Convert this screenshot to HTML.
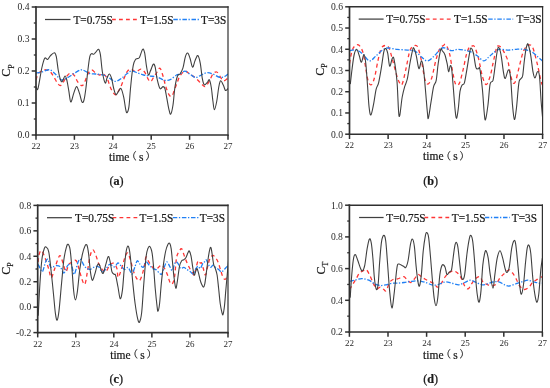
<!DOCTYPE html><html><head><meta charset="utf-8"><style>html,body{margin:0;padding:0;background:#fff;}svg{display:block;}#w{width:550px;height:388px;}text{font-family:'Liberation Serif','Noto Serif CJK SC',serif;fill:#1a1a1a;stroke:#1a1a1a;stroke-width:0.22px;}.tk{stroke:none;fill:#2a2a2a;}</style></head><body>
<div id="w"><svg width="550" height="388" viewBox="0 0 550 388">
<rect width="550" height="388" fill="#fff"/>
<g><clipPath id="clipa"><rect x="36.00" y="7.00" width="192.00" height="128.00"/></clipPath><g clip-path="url(#clipa)" fill="none" stroke-linejoin="round"><path d="M36.00,80.00 C36.33,79.00 37.03,75.50 38.00,74.00 C38.97,72.50 40.52,71.70 41.80,71.00 C43.08,70.30 44.25,69.63 45.70,69.80 C47.15,69.97 49.05,70.63 50.50,72.00 C51.95,73.37 53.27,76.22 54.40,78.00 C55.53,79.78 56.33,81.43 57.30,82.70 C58.27,83.97 59.25,85.60 60.20,85.60 C61.15,85.60 61.87,84.30 63.00,82.70 C64.13,81.10 65.70,77.62 67.00,76.00 C68.30,74.38 69.52,73.00 70.80,73.00 C72.08,73.00 73.57,74.55 74.70,76.00 C75.83,77.45 76.47,80.10 77.60,81.70 C78.73,83.30 80.43,85.27 81.50,85.60 C82.57,85.93 82.93,85.63 84.00,83.70 C85.07,81.77 86.62,76.28 87.90,74.00 C89.18,71.72 90.42,70.17 91.70,70.00 C92.98,69.83 94.30,72.17 95.60,73.00 C96.90,73.83 98.22,74.87 99.50,75.00 C100.78,75.13 102.02,73.22 103.30,73.80 C104.58,74.38 106.07,76.37 107.20,78.50 C108.33,80.63 109.13,84.28 110.10,86.60 C111.07,88.92 112.03,91.02 113.00,92.40 C113.97,93.78 114.93,95.22 115.90,94.90 C116.87,94.58 117.83,92.20 118.80,90.50 C119.77,88.80 120.73,86.97 121.70,84.70 C122.67,82.43 123.63,79.17 124.60,76.90 C125.57,74.63 126.37,72.38 127.50,71.10 C128.63,69.82 130.00,69.05 131.40,69.20 C132.80,69.35 134.35,72.00 135.90,72.00 C137.45,72.00 139.25,69.20 140.70,69.20 C142.15,69.20 143.47,70.55 144.60,72.00 C145.73,73.45 146.53,76.28 147.50,77.90 C148.47,79.52 149.43,81.70 150.40,81.70 C151.37,81.70 152.18,79.52 153.30,77.90 C154.42,76.28 155.98,73.62 157.10,72.00 C158.22,70.38 159.02,67.53 160.00,68.20 C160.98,68.87 162.03,72.93 163.00,76.00 C163.97,79.07 164.83,83.55 165.80,86.60 C166.77,89.65 167.82,92.68 168.80,94.30 C169.78,95.92 170.73,97.10 171.70,96.30 C172.67,95.50 173.63,91.93 174.60,89.50 C175.57,87.07 176.60,83.95 177.50,81.70 C178.40,79.45 178.78,77.77 180.00,76.00 C181.22,74.23 183.18,71.43 184.80,71.10 C186.42,70.77 187.92,72.87 189.70,74.00 C191.48,75.13 193.57,76.28 195.50,77.90 C197.43,79.52 199.70,82.25 201.30,83.70 C202.90,85.15 203.82,86.93 205.10,86.60 C206.38,86.27 207.70,83.80 209.00,81.70 C210.30,79.60 211.60,75.62 212.90,74.00 C214.20,72.38 215.67,71.67 216.80,72.00 C217.93,72.33 218.58,74.53 219.70,76.00 C220.82,77.47 222.12,80.48 223.50,80.80 C224.88,81.12 227.25,78.38 228.00,77.90" stroke="#ff3535" stroke-width="1.3" stroke-dasharray="3.8 3.2"/><path d="M36.00,73.00 C36.97,72.83 39.55,72.53 41.80,72.00 C44.05,71.47 47.25,69.47 49.50,69.80 C51.75,70.13 53.37,72.33 55.30,74.00 C57.23,75.67 59.15,79.13 61.10,79.80 C63.05,80.47 64.73,79.13 67.00,78.00 C69.27,76.87 72.45,74.33 74.70,73.00 C76.95,71.67 78.95,70.42 80.50,70.00 C82.05,69.58 82.45,69.90 84.00,70.50 C85.55,71.10 87.87,73.02 89.80,73.60 C91.73,74.18 93.35,73.77 95.60,74.00 C97.85,74.23 101.05,74.35 103.30,75.00 C105.55,75.65 107.15,76.83 109.10,77.90 C111.05,78.97 113.05,81.25 115.00,81.40 C116.95,81.55 118.87,80.03 120.80,78.80 C122.73,77.57 124.83,75.28 126.60,74.00 C128.37,72.72 129.53,71.27 131.40,71.10 C133.27,70.93 135.77,72.35 137.80,73.00 C139.83,73.65 141.67,74.50 143.60,75.00 C145.53,75.50 147.15,75.67 149.40,76.00 C151.65,76.33 154.52,76.27 157.10,77.00 C159.68,77.73 162.63,80.00 164.90,80.40 C167.17,80.80 168.77,80.30 170.70,79.40 C172.63,78.50 174.95,75.90 176.50,75.00 C178.05,74.10 178.62,74.65 180.00,74.00 C181.38,73.35 183.18,71.10 184.80,71.10 C186.42,71.10 187.92,72.93 189.70,74.00 C191.48,75.07 193.57,77.33 195.50,77.50 C197.43,77.67 199.37,75.80 201.30,75.00 C203.23,74.20 205.17,72.87 207.10,72.70 C209.03,72.53 210.97,73.28 212.90,74.00 C214.83,74.72 216.93,76.50 218.70,77.00 C220.47,77.50 221.95,77.50 223.50,77.00 C225.05,76.50 227.25,74.50 228.00,74.00" stroke="#2080f5" stroke-width="1.3" stroke-dasharray="4.5 1.6 1.3 1.7"/><path d="M36.00,86.60 C36.33,86.92 37.03,91.60 38.00,88.50 C38.97,85.40 40.68,73.05 41.80,68.00 C42.92,62.95 43.73,59.62 44.70,58.20 C45.67,56.78 46.63,59.93 47.60,59.50 C48.57,59.07 49.37,56.73 50.50,55.60 C51.63,54.47 53.43,52.53 54.40,52.70 C55.37,52.87 55.67,53.72 56.30,56.60 C56.93,59.48 57.55,66.30 58.20,70.00 C58.85,73.70 59.55,76.85 60.20,78.80 C60.85,80.75 61.30,82.17 62.10,81.70 C62.90,81.23 64.18,76.15 65.00,76.00 C65.82,75.85 66.35,78.23 67.00,80.80 C67.65,83.37 68.27,87.87 68.90,91.40 C69.53,94.93 70.00,101.67 70.80,102.00 C71.60,102.33 72.73,95.97 73.70,93.40 C74.67,90.83 75.63,86.60 76.60,86.60 C77.57,86.60 78.60,90.83 79.50,93.40 C80.40,95.97 81.25,100.90 82.00,102.00 C82.75,103.10 83.33,102.42 84.00,100.00 C84.67,97.58 85.35,92.50 86.00,87.50 C86.65,82.50 87.27,75.15 87.90,70.00 C88.53,64.85 89.17,59.32 89.80,56.60 C90.43,53.88 91.05,54.08 91.70,53.70 C92.35,53.32 93.05,54.52 93.70,54.30 C94.35,54.08 94.80,53.23 95.60,52.40 C96.40,51.57 97.70,48.92 98.50,49.30 C99.30,49.68 99.75,50.92 100.40,54.70 C101.05,58.48 101.60,67.28 102.40,72.00 C103.20,76.72 104.43,82.00 105.20,83.00 C105.97,84.00 106.32,79.50 107.00,78.00 C107.68,76.50 108.53,73.92 109.30,74.00 C110.07,74.08 110.88,76.17 111.60,78.50 C112.32,80.83 112.88,85.33 113.60,88.00 C114.32,90.67 115.08,93.93 115.90,94.50 C116.72,95.07 117.65,92.40 118.50,91.40 C119.35,90.40 120.13,87.53 121.00,88.50 C121.87,89.47 122.93,93.82 123.70,97.20 C124.47,100.58 125.05,106.22 125.60,108.80 C126.15,111.38 126.45,113.02 127.00,112.70 C127.55,112.38 128.33,110.77 128.90,106.90 C129.47,103.03 129.88,94.98 130.40,89.50 C130.92,84.02 131.48,78.20 132.00,74.00 C132.52,69.80 132.92,66.72 133.50,64.30 C134.08,61.88 134.85,60.47 135.50,59.50 C136.15,58.53 136.75,58.82 137.40,58.50 C138.05,58.18 138.53,59.13 139.40,57.60 C140.27,56.07 141.73,50.12 142.60,49.30 C143.47,48.48 143.95,49.87 144.60,52.70 C145.25,55.53 145.87,62.58 146.50,66.30 C147.13,70.02 147.75,74.20 148.40,75.00 C149.05,75.80 149.58,72.88 150.40,71.10 C151.22,69.32 152.50,64.95 153.30,64.30 C154.10,63.65 154.57,64.78 155.20,67.20 C155.83,69.62 156.30,75.25 157.10,78.80 C157.90,82.35 159.02,87.20 160.00,88.50 C160.98,89.80 162.18,86.60 163.00,86.60 C163.82,86.60 164.27,86.57 164.90,88.50 C165.53,90.43 166.15,94.82 166.80,98.20 C167.45,101.58 168.15,106.13 168.80,108.80 C169.45,111.47 170.00,114.83 170.70,114.20 C171.40,113.57 172.30,109.45 173.00,105.00 C173.70,100.55 174.15,92.33 174.90,87.50 C175.65,82.67 176.65,78.25 177.50,76.00 C178.35,73.75 179.10,75.30 180.00,74.00 C180.90,72.70 182.00,71.10 182.90,68.20 C183.80,65.30 184.60,59.12 185.40,56.60 C186.20,54.08 186.92,52.78 187.70,53.10 C188.48,53.42 189.28,56.15 190.10,58.50 C190.92,60.85 191.77,66.87 192.60,67.20 C193.43,67.53 194.23,62.43 195.10,60.50 C195.97,58.57 196.93,55.12 197.80,55.60 C198.67,56.08 199.57,59.68 200.30,63.40 C201.03,67.12 201.55,74.35 202.20,77.90 C202.85,81.45 203.38,83.90 204.20,84.70 C205.02,85.50 206.23,83.52 207.10,82.70 C207.97,81.88 208.70,79.00 209.40,79.80 C210.10,80.60 210.72,83.97 211.30,87.50 C211.88,91.03 212.38,97.28 212.90,101.00 C213.42,104.72 213.75,109.80 214.40,109.80 C215.05,109.80 216.08,104.72 216.80,101.00 C217.52,97.28 218.07,90.87 218.70,87.50 C219.33,84.13 219.80,81.12 220.60,80.80 C221.40,80.48 222.68,83.98 223.50,85.60 C224.32,87.22 224.75,90.02 225.50,90.50 C226.25,90.98 227.58,88.83 228.00,88.50" stroke="#404040" stroke-width="1.1"/></g><line x1="35.20" y1="7.00" x2="228.60" y2="7.00" stroke="#303030" stroke-width="1.6"/><line x1="35.20" y1="135.00" x2="228.60" y2="135.00" stroke="#303030" stroke-width="1.6"/><line x1="36.00" y1="6.20" x2="36.00" y2="135.80" stroke="#303030" stroke-width="1.7"/><line x1="228.00" y1="6.20" x2="228.00" y2="135.80" stroke="#303030" stroke-width="1.2"/><line x1="31.70" y1="135.00" x2="36.00" y2="135.00" stroke="#303030" stroke-width="1.5"/><text class="tk" x="29.50" y="138.30" font-size="9.6" text-anchor="end">0.0</text><line x1="31.70" y1="103.00" x2="36.00" y2="103.00" stroke="#303030" stroke-width="1.5"/><text class="tk" x="29.50" y="106.30" font-size="9.6" text-anchor="end">0.1</text><line x1="31.70" y1="71.00" x2="36.00" y2="71.00" stroke="#303030" stroke-width="1.5"/><text class="tk" x="29.50" y="74.30" font-size="9.6" text-anchor="end">0.2</text><line x1="31.70" y1="39.00" x2="36.00" y2="39.00" stroke="#303030" stroke-width="1.5"/><text class="tk" x="29.50" y="42.30" font-size="9.6" text-anchor="end">0.3</text><line x1="31.70" y1="7.00" x2="36.00" y2="7.00" stroke="#303030" stroke-width="1.5"/><text class="tk" x="29.50" y="10.30" font-size="9.6" text-anchor="end">0.4</text><line x1="33.80" y1="119.00" x2="36.00" y2="119.00" stroke="#303030" stroke-width="1.3"/><line x1="33.80" y1="87.00" x2="36.00" y2="87.00" stroke="#303030" stroke-width="1.3"/><line x1="33.80" y1="55.00" x2="36.00" y2="55.00" stroke="#303030" stroke-width="1.3"/><line x1="33.80" y1="23.00" x2="36.00" y2="23.00" stroke="#303030" stroke-width="1.3"/><line x1="36.00" y1="135.00" x2="36.00" y2="139.80" stroke="#303030" stroke-width="1.5"/><text class="tk" x="36.10" y="148.90" font-size="9.0" text-anchor="middle">22</text><line x1="74.40" y1="135.00" x2="74.40" y2="139.80" stroke="#303030" stroke-width="1.5"/><text class="tk" x="74.50" y="148.90" font-size="9.0" text-anchor="middle">23</text><line x1="112.80" y1="135.00" x2="112.80" y2="139.80" stroke="#303030" stroke-width="1.5"/><text class="tk" x="112.90" y="148.90" font-size="9.0" text-anchor="middle">24</text><line x1="151.20" y1="135.00" x2="151.20" y2="139.80" stroke="#303030" stroke-width="1.5"/><text class="tk" x="151.30" y="148.90" font-size="9.0" text-anchor="middle">25</text><line x1="189.60" y1="135.00" x2="189.60" y2="139.80" stroke="#303030" stroke-width="1.5"/><text class="tk" x="189.70" y="148.90" font-size="9.0" text-anchor="middle">26</text><line x1="228.00" y1="135.00" x2="228.00" y2="139.80" stroke="#303030" stroke-width="1.5"/><text class="tk" x="228.10" y="148.90" font-size="9.0" text-anchor="middle">27</text><line x1="45.00" y1="19.50" x2="70.50" y2="19.50" stroke="#404040" stroke-width="1.25"/><line x1="112.00" y1="19.50" x2="138.40" y2="19.50" stroke="#ff3535" stroke-width="1.3" stroke-dasharray="3.8 3.2"/><line x1="173.30" y1="19.50" x2="199.50" y2="19.50" stroke="#2080f5" stroke-width="1.3" stroke-dasharray="4.5 1.6 1.3 1.7"/><text transform="translate(73.40,23.50) scale(1,1.09)" font-size="11.3">T=0.75S</text><text transform="translate(139.90,23.50) scale(1,1.09)" font-size="11.3">T=1.5S</text><text transform="translate(201.10,23.50) scale(1,1.09)" font-size="11.3">T=3S</text><text transform="translate(10.20,76.80) rotate(-90)" font-size="12">C<tspan font-size="7.8" dy="3.4">P</tspan></text><text transform="translate(109.00,160.70) scale(1,1.07)" font-size="11.5"><tspan x="0" y="0">time</tspan><tspan x="18.30" y="-0.6" font-size="9.4">（</tspan><tspan x="30.10" y="0">s</tspan><tspan x="36.50" y="-0.6" font-size="9.4">）</tspan></text><text transform="translate(109.40,184.80) scale(1,1.04)" font-size="12.2">(<tspan font-weight="bold">a</tspan>)</text></g>
<g><clipPath id="clipb"><rect x="349.50" y="6.80" width="193.10" height="127.40"/></clipPath><g clip-path="url(#clipb)" fill="none" stroke-linejoin="round"><path d="M349.50,63.50 C349.93,61.35 351.12,53.60 352.10,50.60 C353.08,47.60 354.20,46.35 355.40,45.50 C356.60,44.65 358.00,44.22 359.30,45.50 C360.60,46.78 362.12,49.33 363.20,53.20 C364.28,57.07 364.95,63.98 365.80,68.70 C366.65,73.42 367.32,78.85 368.30,81.50 C369.28,84.15 370.62,85.45 371.70,84.60 C372.78,83.75 373.77,80.35 374.80,76.40 C375.83,72.45 376.83,65.53 377.90,60.90 C378.97,56.27 380.00,51.17 381.20,48.60 C382.40,46.03 383.80,45.60 385.10,45.50 C386.40,45.40 387.72,45.43 389.00,48.00 C390.28,50.57 391.47,56.17 392.80,60.90 C394.13,65.63 395.87,72.75 397.00,76.40 C398.13,80.05 398.73,81.52 399.60,82.80 C400.47,84.08 401.13,86.45 402.20,84.10 C403.27,81.75 404.72,74.28 406.00,68.70 C407.28,63.12 408.60,54.38 409.90,50.60 C411.20,46.82 412.52,46.63 413.80,46.00 C415.08,45.37 416.32,44.32 417.60,46.80 C418.88,49.28 420.30,55.53 421.50,60.90 C422.70,66.27 423.73,75.13 424.80,79.00 C425.87,82.87 426.73,84.32 427.90,84.10 C429.07,83.88 430.50,81.57 431.80,77.70 C433.10,73.83 434.42,65.63 435.70,60.90 C436.98,56.17 438.22,51.87 439.50,49.30 C440.78,46.73 442.30,46.23 443.40,45.50 C444.50,44.77 445.03,43.37 446.10,44.90 C447.17,46.43 448.78,50.63 449.80,54.70 C450.82,58.77 451.38,64.82 452.20,69.30 C453.02,73.78 453.97,78.95 454.70,81.60 C455.43,84.25 455.78,85.00 456.60,85.20 C457.42,85.40 458.50,85.45 459.60,82.80 C460.70,80.15 462.07,73.98 463.20,69.30 C464.33,64.62 465.38,58.37 466.40,54.70 C467.42,51.03 468.37,48.75 469.30,47.30 C470.23,45.85 471.12,46.08 472.00,46.00 C472.88,45.92 473.52,44.73 474.60,46.80 C475.68,48.87 477.20,53.47 478.50,58.40 C479.80,63.33 481.12,72.03 482.40,76.40 C483.68,80.77 484.92,84.60 486.20,84.60 C487.48,84.60 488.97,79.92 490.10,76.40 C491.23,72.88 492.00,68.02 493.00,63.50 C494.00,58.98 495.38,52.20 496.10,49.30 C496.82,46.40 496.48,46.43 497.30,46.10 C498.12,45.77 499.80,46.15 501.00,47.30 C502.20,48.45 503.37,50.80 504.50,53.00 C505.63,55.20 507.00,57.93 507.80,60.50 C508.60,63.07 508.70,65.43 509.30,68.40 C509.90,71.37 510.70,75.82 511.40,78.30 C512.10,80.78 512.80,82.83 513.50,83.30 C514.20,83.77 514.88,82.88 515.60,81.10 C516.32,79.32 517.08,75.43 517.80,72.60 C518.52,69.77 519.20,66.93 519.90,64.10 C520.60,61.27 521.30,57.97 522.00,55.60 C522.70,53.23 523.38,51.43 524.10,49.90 C524.82,48.37 525.57,47.22 526.30,46.40 C527.03,45.58 527.45,44.85 528.50,45.00 C529.55,45.15 531.12,44.07 532.60,47.30 C534.08,50.53 535.98,58.68 537.40,64.40 C538.82,70.12 540.17,78.00 541.10,81.60 C542.03,85.20 542.68,85.27 543.00,86.00" stroke="#ff3535" stroke-width="1.3" stroke-dasharray="3.8 3.2"/><path d="M349.50,50.60 C350.70,50.52 354.42,49.45 356.70,50.10 C358.98,50.75 361.05,52.70 363.20,54.50 C365.35,56.30 367.45,60.68 369.60,60.90 C371.75,61.12 373.95,57.60 376.10,55.80 C378.25,54.00 380.57,51.40 382.50,50.10 C384.43,48.80 385.28,48.13 387.70,48.00 C390.12,47.87 393.73,48.95 397.00,49.30 C400.27,49.65 404.30,49.80 407.30,50.10 C410.30,50.40 412.63,49.95 415.00,51.10 C417.37,52.25 419.43,55.37 421.50,57.00 C423.57,58.63 425.25,61.10 427.40,60.90 C429.55,60.70 432.17,57.85 434.40,55.80 C436.63,53.75 439.03,49.90 440.80,48.60 C442.57,47.30 443.23,47.67 445.00,48.00 C446.77,48.33 449.25,50.38 451.40,50.60 C453.55,50.82 455.75,49.38 457.90,49.30 C460.05,49.22 462.15,49.67 464.30,50.10 C466.45,50.53 468.65,50.95 470.80,51.90 C472.95,52.85 475.05,54.30 477.20,55.80 C479.35,57.30 481.77,60.70 483.70,60.90 C485.63,61.10 487.25,58.28 488.80,57.00 C490.35,55.72 491.23,54.48 493.00,53.20 C494.77,51.92 496.82,49.82 499.40,49.30 C501.98,48.78 505.70,50.10 508.50,50.10 C511.30,50.10 513.63,49.43 516.20,49.30 C518.77,49.17 521.32,48.87 523.90,49.30 C526.48,49.73 529.33,50.62 531.70,51.90 C534.07,53.18 536.30,55.50 538.10,57.00 C539.90,58.50 541.77,60.25 542.50,60.90" stroke="#2080f5" stroke-width="1.3" stroke-dasharray="4.5 1.6 1.3 1.7"/><path d="M350.30,84.10 C350.60,81.53 351.45,73.63 352.10,68.70 C352.75,63.77 353.43,57.73 354.20,54.50 C354.97,51.27 355.85,49.08 356.70,49.30 C357.55,49.52 358.52,53.65 359.30,55.80 C360.08,57.95 360.62,62.42 361.40,62.20 C362.18,61.98 363.27,54.28 364.00,54.50 C364.73,54.72 365.20,58.13 365.80,63.50 C366.40,68.87 367.05,79.40 367.60,86.70 C368.15,94.00 368.55,102.58 369.10,107.30 C369.65,112.02 370.17,115.43 370.90,115.00 C371.63,114.57 372.63,108.98 373.50,104.70 C374.37,100.42 375.25,92.95 376.10,89.30 C376.95,85.65 377.75,86.23 378.60,82.80 C379.45,79.37 380.33,73.85 381.20,68.70 C382.07,63.55 383.07,55.25 383.80,51.90 C384.53,48.55 384.95,48.38 385.60,48.60 C386.25,48.82 387.02,50.28 387.70,53.20 C388.38,56.12 388.93,65.23 389.70,66.10 C390.47,66.97 391.57,59.48 392.30,58.40 C393.03,57.32 393.32,55.75 394.10,59.60 C394.88,63.45 396.17,72.05 397.00,81.50 C397.83,90.95 398.23,113.72 399.10,116.30 C399.97,118.88 401.27,101.93 402.20,97.00 C403.13,92.07 403.85,89.70 404.70,86.70 C405.55,83.70 406.43,82.87 407.30,79.00 C408.17,75.13 409.03,68.23 409.90,63.50 C410.77,58.77 411.85,53.18 412.50,50.60 C413.15,48.02 413.17,47.13 413.80,48.00 C414.43,48.87 415.45,52.35 416.30,55.80 C417.15,59.25 418.03,67.85 418.90,68.70 C419.77,69.55 420.73,60.90 421.50,60.90 C422.27,60.90 422.85,63.97 423.50,68.70 C424.15,73.43 424.75,82.00 425.40,89.30 C426.05,96.60 426.90,107.70 427.40,112.50 C427.90,117.30 427.80,119.82 428.40,118.10 C429.00,116.38 430.13,107.43 431.00,102.20 C431.87,96.97 432.73,90.35 433.60,86.70 C434.47,83.05 435.43,84.17 436.20,80.30 C436.97,76.43 437.43,68.67 438.20,63.50 C438.97,58.33 440.10,51.38 440.80,49.30 C441.50,47.22 441.72,50.10 442.40,51.00 C443.08,51.90 444.08,52.47 444.90,54.70 C445.72,56.93 446.68,61.55 447.30,64.40 C447.92,67.25 448.10,71.58 448.60,71.80 C449.10,72.02 449.78,66.12 450.30,65.70 C450.82,65.28 451.18,65.43 451.70,69.30 C452.22,73.17 452.82,81.97 453.40,88.90 C453.98,95.83 454.67,106.02 455.20,110.90 C455.73,115.78 456.08,118.60 456.60,118.20 C457.12,117.80 457.73,112.98 458.30,108.50 C458.87,104.02 459.38,95.18 460.00,91.30 C460.62,87.42 461.27,86.62 462.00,85.20 C462.73,83.78 463.58,85.45 464.40,82.80 C465.22,80.15 466.08,73.98 466.90,69.30 C467.72,64.62 468.63,58.25 469.30,54.70 C469.97,51.15 470.22,48.25 470.90,48.00 C471.58,47.75 472.57,49.97 473.40,53.20 C474.23,56.43 475.05,64.82 475.90,67.40 C476.75,69.98 477.85,68.48 478.50,68.70 C479.15,68.92 479.15,65.27 479.80,68.70 C480.45,72.13 481.67,82.00 482.40,89.30 C483.13,96.60 483.68,107.43 484.20,112.50 C484.72,117.57 484.87,121.00 485.50,119.70 C486.13,118.40 487.23,110.63 488.00,104.70 C488.77,98.77 489.27,88.17 490.10,84.10 C490.93,80.03 492.17,83.30 493.00,80.30 C493.83,77.30 494.45,70.62 495.10,66.10 C495.75,61.58 496.32,56.33 496.90,53.20 C497.48,50.07 497.92,47.05 498.60,47.30 C499.28,47.55 500.20,50.62 501.00,54.70 C501.80,58.78 502.70,67.83 503.40,71.80 C504.10,75.77 504.40,78.80 505.20,78.50 C506.00,78.20 507.40,70.87 508.20,70.00 C509.00,69.13 509.53,71.20 510.00,73.30 C510.47,75.40 510.58,77.32 511.00,82.60 C511.42,87.88 511.93,98.85 512.50,105.00 C513.07,111.15 513.75,118.92 514.40,119.50 C515.05,120.08 515.78,113.42 516.40,108.50 C517.02,103.58 517.63,94.57 518.10,90.00 C518.57,85.43 518.67,83.05 519.20,81.10 C519.73,79.15 520.72,79.23 521.30,78.30 C521.88,77.37 522.23,78.10 522.70,75.50 C523.17,72.90 523.62,66.73 524.10,62.70 C524.58,58.67 525.12,54.25 525.60,51.30 C526.08,48.35 526.57,46.13 527.00,45.00 C527.43,43.87 527.60,42.88 528.20,44.50 C528.80,46.12 529.80,50.15 530.60,54.70 C531.40,59.25 532.27,67.93 533.00,71.80 C533.73,75.67 534.27,77.90 535.00,77.90 C535.73,77.90 536.67,72.20 537.40,71.80 C538.13,71.40 538.78,70.63 539.40,75.50 C540.02,80.37 540.53,93.58 541.10,101.00 C541.67,108.42 542.52,116.83 542.80,120.00" stroke="#404040" stroke-width="1.1"/></g><line x1="348.70" y1="6.80" x2="543.20" y2="6.80" stroke="#303030" stroke-width="1.6"/><line x1="348.70" y1="134.20" x2="543.20" y2="134.20" stroke="#303030" stroke-width="1.6"/><line x1="349.50" y1="6.00" x2="349.50" y2="135.00" stroke="#303030" stroke-width="1.7"/><line x1="542.60" y1="6.00" x2="542.60" y2="135.00" stroke="#303030" stroke-width="1.2"/><line x1="345.20" y1="134.20" x2="349.50" y2="134.20" stroke="#303030" stroke-width="1.5"/><text class="tk" x="343.00" y="137.50" font-size="9.6" text-anchor="end">0.0</text><line x1="345.20" y1="112.97" x2="349.50" y2="112.97" stroke="#303030" stroke-width="1.5"/><text class="tk" x="343.00" y="116.27" font-size="9.6" text-anchor="end">0.1</text><line x1="345.20" y1="91.73" x2="349.50" y2="91.73" stroke="#303030" stroke-width="1.5"/><text class="tk" x="343.00" y="95.03" font-size="9.6" text-anchor="end">0.2</text><line x1="345.20" y1="70.50" x2="349.50" y2="70.50" stroke="#303030" stroke-width="1.5"/><text class="tk" x="343.00" y="73.80" font-size="9.6" text-anchor="end">0.3</text><line x1="345.20" y1="49.27" x2="349.50" y2="49.27" stroke="#303030" stroke-width="1.5"/><text class="tk" x="343.00" y="52.57" font-size="9.6" text-anchor="end">0.4</text><line x1="345.20" y1="28.03" x2="349.50" y2="28.03" stroke="#303030" stroke-width="1.5"/><text class="tk" x="343.00" y="31.33" font-size="9.6" text-anchor="end">0.5</text><line x1="345.20" y1="6.80" x2="349.50" y2="6.80" stroke="#303030" stroke-width="1.5"/><text class="tk" x="343.00" y="10.10" font-size="9.6" text-anchor="end">0.6</text><line x1="347.30" y1="123.58" x2="349.50" y2="123.58" stroke="#303030" stroke-width="1.3"/><line x1="347.30" y1="102.35" x2="349.50" y2="102.35" stroke="#303030" stroke-width="1.3"/><line x1="347.30" y1="81.12" x2="349.50" y2="81.12" stroke="#303030" stroke-width="1.3"/><line x1="347.30" y1="59.88" x2="349.50" y2="59.88" stroke="#303030" stroke-width="1.3"/><line x1="347.30" y1="38.65" x2="349.50" y2="38.65" stroke="#303030" stroke-width="1.3"/><line x1="347.30" y1="17.42" x2="349.50" y2="17.42" stroke="#303030" stroke-width="1.3"/><line x1="349.50" y1="134.20" x2="349.50" y2="139.00" stroke="#303030" stroke-width="1.5"/><text class="tk" x="349.60" y="148.10" font-size="9.0" text-anchor="middle">22</text><line x1="388.12" y1="134.20" x2="388.12" y2="139.00" stroke="#303030" stroke-width="1.5"/><text class="tk" x="388.22" y="148.10" font-size="9.0" text-anchor="middle">23</text><line x1="426.74" y1="134.20" x2="426.74" y2="139.00" stroke="#303030" stroke-width="1.5"/><text class="tk" x="426.84" y="148.10" font-size="9.0" text-anchor="middle">24</text><line x1="465.36" y1="134.20" x2="465.36" y2="139.00" stroke="#303030" stroke-width="1.5"/><text class="tk" x="465.46" y="148.10" font-size="9.0" text-anchor="middle">25</text><line x1="503.98" y1="134.20" x2="503.98" y2="139.00" stroke="#303030" stroke-width="1.5"/><text class="tk" x="504.08" y="148.10" font-size="9.0" text-anchor="middle">26</text><line x1="542.60" y1="134.20" x2="542.60" y2="139.00" stroke="#303030" stroke-width="1.5"/><text class="tk" x="542.70" y="148.10" font-size="9.0" text-anchor="middle">27</text><line x1="358.70" y1="19.10" x2="383.60" y2="19.10" stroke="#404040" stroke-width="1.25"/><line x1="425.80" y1="19.10" x2="452.00" y2="19.10" stroke="#ff3535" stroke-width="1.3" stroke-dasharray="3.8 3.2"/><line x1="488.20" y1="19.10" x2="513.20" y2="19.10" stroke="#2080f5" stroke-width="1.3" stroke-dasharray="4.5 1.6 1.3 1.7"/><text transform="translate(386.20,23.10) scale(1,1.09)" font-size="11.3">T=0.75S</text><text transform="translate(454.00,23.10) scale(1,1.09)" font-size="11.3">T=1.5S</text><text transform="translate(516.40,23.10) scale(1,1.09)" font-size="11.3">T=3S</text><text transform="translate(323.70,75.80) rotate(-90)" font-size="12">C<tspan font-size="7.8" dy="3.4">P</tspan></text><text transform="translate(423.10,160.20) scale(1,1.07)" font-size="11.5"><tspan x="0" y="0">time</tspan><tspan x="18.30" y="-0.6" font-size="9.4">（</tspan><tspan x="30.10" y="0">s</tspan><tspan x="36.50" y="-0.6" font-size="9.4">）</tspan></text><text transform="translate(423.20,184.80) scale(1,1.04)" font-size="12.2">(<tspan font-weight="bold">b</tspan>)</text></g>
<g><clipPath id="clipc"><rect x="37.70" y="205.40" width="190.30" height="127.20"/></clipPath><g clip-path="url(#clipc)" fill="none" stroke-linejoin="round"><path d="M38.00,262.00 C38.23,260.57 38.75,255.25 39.40,253.40 C40.05,251.55 40.87,249.88 41.90,250.90 C42.93,251.92 44.45,256.43 45.60,259.50 C46.75,262.57 47.87,266.25 48.80,269.30 C49.73,272.35 50.32,277.60 51.20,277.80 C52.08,278.00 53.00,273.55 54.10,270.50 C55.20,267.45 56.77,261.95 57.80,259.50 C58.83,257.05 59.37,254.98 60.30,255.80 C61.23,256.62 62.47,261.75 63.40,264.40 C64.33,267.05 65.00,271.70 65.90,271.70 C66.80,271.70 67.70,266.03 68.80,264.40 C69.90,262.77 71.27,262.52 72.50,261.90 C73.73,261.28 75.10,259.47 76.20,260.70 C77.30,261.93 78.08,266.03 79.10,269.30 C80.12,272.57 81.32,277.85 82.30,280.30 C83.28,282.75 84.15,285.43 85.00,284.00 C85.85,282.57 86.58,276.20 87.40,271.70 C88.22,267.20 89.00,260.67 89.90,257.00 C90.80,253.33 91.78,249.90 92.80,249.70 C93.82,249.50 95.05,253.55 96.00,255.80 C96.95,258.05 97.48,260.95 98.50,263.20 C99.52,265.45 100.88,267.88 102.10,269.30 C103.32,270.72 104.57,272.32 105.80,271.70 C107.03,271.08 108.27,267.02 109.50,265.60 C110.73,264.18 111.98,262.78 113.20,263.20 C114.42,263.62 116.00,265.77 116.80,268.10 C117.60,270.43 117.43,276.40 118.00,277.20 C118.57,278.00 119.28,275.45 120.20,272.90 C121.12,270.35 122.58,264.83 123.50,261.90 C124.42,258.97 124.97,256.77 125.70,255.30 C126.43,253.83 127.07,252.18 127.90,253.10 C128.73,254.02 129.80,257.87 130.70,260.80 C131.60,263.73 132.32,267.78 133.30,270.70 C134.28,273.62 135.57,276.67 136.60,278.30 C137.63,279.93 138.58,281.05 139.50,280.50 C140.42,279.95 141.30,277.37 142.10,275.00 C142.90,272.63 143.65,269.30 144.30,266.30 C144.95,263.30 145.35,257.92 146.00,257.00 C146.65,256.08 147.40,259.43 148.20,260.80 C149.00,262.17 149.88,263.92 150.80,265.20 C151.72,266.48 152.67,267.95 153.70,268.50 C154.73,269.05 156.02,268.87 157.00,268.50 C157.98,268.13 158.80,266.85 159.60,266.30 C160.40,265.75 160.97,264.83 161.80,265.20 C162.63,265.57 163.65,266.87 164.60,268.50 C165.55,270.13 166.58,272.63 167.50,275.00 C168.42,277.37 169.30,281.23 170.10,282.70 C170.90,284.17 171.57,284.72 172.30,283.80 C173.03,282.88 173.78,281.58 174.50,277.20 C175.22,272.82 175.77,261.87 176.60,257.50 C177.43,253.13 178.65,252.45 179.50,251.00 C180.35,249.55 180.87,247.90 181.70,248.80 C182.53,249.70 183.60,254.03 184.50,256.40 C185.40,258.77 186.22,260.98 187.10,263.00 C187.98,265.02 188.88,266.85 189.80,268.50 C190.72,270.15 191.87,271.82 192.60,272.90 C193.33,273.98 193.65,275.73 194.20,275.00 C194.75,274.27 195.25,270.87 195.90,268.50 C196.55,266.13 197.37,261.72 198.10,260.80 C198.83,259.88 199.68,262.63 200.30,263.00 C200.92,263.37 201.30,262.08 201.80,263.00 C202.30,263.92 202.68,266.50 203.30,268.50 C203.92,270.50 204.77,275.37 205.50,275.00 C206.23,274.63 206.97,269.03 207.70,266.30 C208.43,263.57 209.07,260.43 209.90,258.60 C210.73,256.77 211.80,255.48 212.70,255.30 C213.60,255.12 214.42,256.40 215.30,257.50 C216.18,258.60 217.08,259.70 218.00,261.90 C218.92,264.10 219.97,268.15 220.80,270.70 C221.63,273.25 222.27,275.75 223.00,277.20 C223.73,278.65 224.47,279.58 225.20,279.40 C225.93,279.22 226.77,277.17 227.40,276.10 C228.03,275.03 228.73,273.52 229.00,273.00" stroke="#ff3535" stroke-width="1.3" stroke-dasharray="3.8 3.2"/><path d="M38.00,264.40 C38.23,264.80 38.67,265.58 39.40,266.80 C40.13,268.02 41.37,272.52 42.40,271.70 C43.43,270.88 44.67,263.93 45.60,261.90 C46.53,259.87 47.18,258.68 48.00,259.50 C48.82,260.32 49.68,265.58 50.50,266.80 C51.32,268.02 51.88,267.00 52.90,266.80 C53.92,266.60 55.37,265.60 56.60,265.60 C57.83,265.60 59.08,265.57 60.30,266.80 C61.52,268.03 62.68,273.20 63.90,273.00 C65.12,272.80 66.37,267.03 67.60,265.60 C68.83,264.17 70.20,262.97 71.30,264.40 C72.40,265.83 73.07,274.62 74.20,274.20 C75.33,273.78 77.03,264.35 78.10,261.90 C79.17,259.45 79.45,258.68 80.60,259.50 C81.75,260.32 83.45,265.17 85.00,266.80 C86.55,268.43 88.27,269.30 89.90,269.30 C91.53,269.30 93.37,267.22 94.80,266.80 C96.23,266.38 97.28,265.98 98.50,266.80 C99.72,267.62 100.88,271.28 102.10,271.70 C103.32,272.12 104.57,270.52 105.80,269.30 C107.03,268.08 108.07,264.82 109.50,264.40 C110.93,263.98 112.98,267.03 114.40,266.80 C115.82,266.57 116.85,263.08 118.00,263.00 C119.15,262.92 120.20,265.20 121.30,266.30 C122.40,267.40 123.50,269.42 124.60,269.60 C125.70,269.78 127.00,267.22 127.90,267.40 C128.80,267.58 129.28,269.60 130.00,270.70 C130.72,271.80 131.35,274.73 132.20,274.00 C133.05,273.27 134.25,268.50 135.10,266.30 C135.95,264.10 136.50,261.17 137.30,260.80 C138.10,260.43 138.92,263.00 139.90,264.10 C140.88,265.20 142.18,267.77 143.20,267.40 C144.22,267.03 144.98,262.27 146.00,261.90 C147.02,261.53 148.20,264.10 149.30,265.20 C150.40,266.30 151.50,267.77 152.60,268.50 C153.70,269.23 154.82,268.87 155.90,269.60 C156.98,270.33 158.12,272.17 159.10,272.90 C160.08,273.63 160.88,275.10 161.80,274.00 C162.72,272.90 163.77,268.32 164.60,266.30 C165.43,264.28 165.95,261.90 166.80,261.90 C167.65,261.90 168.78,264.83 169.70,266.30 C170.62,267.77 171.50,271.07 172.30,270.70 C173.10,270.33 173.85,265.57 174.50,264.10 C175.15,262.63 175.55,261.90 176.20,261.90 C176.85,261.90 177.67,263.00 178.40,264.10 C179.13,265.20 179.68,267.95 180.60,268.50 C181.52,269.05 182.82,267.22 183.90,267.40 C184.98,267.58 186.02,268.87 187.10,269.60 C188.18,270.33 189.37,271.07 190.40,271.80 C191.43,272.53 192.38,274.55 193.30,274.00 C194.22,273.45 195.10,269.78 195.90,268.50 C196.70,267.22 197.37,266.30 198.10,266.30 C198.83,266.30 199.57,268.87 200.30,268.50 C201.03,268.13 201.82,265.18 202.50,264.10 C203.18,263.02 203.80,262.73 204.40,262.00 C205.00,261.27 205.45,259.35 206.10,259.70 C206.75,260.05 207.57,262.82 208.30,264.10 C209.03,265.38 209.70,267.22 210.50,267.40 C211.30,267.58 212.22,265.20 213.10,265.20 C213.98,265.20 214.88,266.67 215.80,267.40 C216.72,268.13 217.65,268.87 218.60,269.60 C219.55,270.33 220.58,271.80 221.50,271.80 C222.42,271.80 223.12,270.52 224.10,269.60 C225.08,268.68 226.58,266.90 227.40,266.30 C228.22,265.70 228.73,266.05 229.00,266.00" stroke="#2080f5" stroke-width="1.3" stroke-dasharray="4.5 1.6 1.3 1.7"/><path d="M38.20,315.80 C38.48,310.50 39.28,293.38 39.90,284.00 C40.52,274.62 41.17,265.42 41.90,259.50 C42.63,253.58 43.57,250.55 44.30,248.50 C45.03,246.45 45.55,246.60 46.30,247.20 C47.05,247.80 47.98,248.02 48.80,252.10 C49.62,256.18 50.38,264.35 51.20,271.70 C52.02,279.05 53.00,289.25 53.70,296.20 C54.40,303.15 54.83,309.40 55.40,313.40 C55.97,317.40 56.50,320.62 57.10,320.20 C57.70,319.78 58.27,316.93 59.00,310.90 C59.73,304.87 60.68,292.57 61.50,284.00 C62.32,275.43 63.08,265.63 63.90,259.50 C64.72,253.37 65.70,249.73 66.40,247.20 C67.10,244.67 67.48,243.88 68.10,244.30 C68.72,244.72 69.48,245.95 70.10,249.70 C70.72,253.45 71.20,259.87 71.80,266.80 C72.40,273.73 73.10,285.78 73.70,291.30 C74.30,296.82 74.78,299.90 75.40,299.90 C76.02,299.90 76.67,296.40 77.40,291.30 C78.13,286.20 78.98,275.42 79.80,269.30 C80.62,263.18 81.43,258.48 82.30,254.60 C83.17,250.72 84.22,247.55 85.00,246.00 C85.78,244.45 86.38,243.87 87.00,245.30 C87.62,246.73 88.13,250.20 88.70,254.60 C89.27,259.00 89.80,267.42 90.40,271.70 C91.00,275.98 91.57,279.88 92.30,280.30 C93.03,280.72 93.98,276.65 94.80,274.20 C95.62,271.75 96.47,267.23 97.20,265.60 C97.93,263.97 98.45,263.38 99.20,264.40 C99.95,265.42 101.00,270.27 101.70,271.70 C102.40,273.13 102.72,274.22 103.40,273.00 C104.08,271.78 104.98,267.15 105.80,264.40 C106.62,261.65 107.57,256.92 108.30,256.50 C109.03,256.08 109.60,259.37 110.20,261.90 C110.80,264.43 111.28,269.65 111.90,271.70 C112.52,273.75 113.28,273.58 113.90,274.20 C114.52,274.82 114.92,273.27 115.60,275.40 C116.28,277.53 117.23,283.12 118.00,287.00 C118.77,290.88 119.47,298.13 120.20,298.70 C120.93,299.27 121.75,295.07 122.40,290.40 C123.05,285.73 123.52,276.92 124.10,270.70 C124.68,264.48 125.27,257.20 125.90,253.10 C126.53,249.00 127.28,246.45 127.90,246.10 C128.52,245.75 129.07,248.00 129.60,251.00 C130.13,254.00 130.55,258.63 131.10,264.10 C131.65,269.57 132.23,277.23 132.90,283.80 C133.57,290.37 134.30,297.65 135.10,303.50 C135.90,309.35 136.97,315.80 137.70,318.90 C138.43,322.00 138.83,323.20 139.50,322.10 C140.17,321.00 140.98,318.68 141.70,312.30 C142.42,305.92 143.08,292.93 143.80,283.80 C144.52,274.67 145.33,263.33 146.00,257.50 C146.67,251.67 147.15,250.62 147.80,248.80 C148.45,246.98 149.18,245.88 149.90,246.60 C150.62,247.32 151.47,249.45 152.10,253.10 C152.73,256.75 153.18,262.65 153.70,268.50 C154.22,274.35 154.65,282.00 155.20,288.20 C155.75,294.40 156.53,301.87 157.00,305.70 C157.47,309.53 157.57,311.57 158.00,311.20 C158.43,310.83 159.05,308.07 159.60,303.50 C160.15,298.93 160.65,290.37 161.30,283.80 C161.95,277.23 162.77,269.57 163.50,264.10 C164.23,258.63 164.97,254.28 165.70,251.00 C166.43,247.72 167.23,245.68 167.90,244.40 C168.57,243.12 169.15,242.57 169.70,243.30 C170.25,244.03 170.70,245.33 171.20,248.80 C171.70,252.27 172.23,259.37 172.70,264.10 C173.17,268.83 173.48,273.18 174.00,277.20 C174.52,281.22 175.25,287.47 175.80,288.20 C176.35,288.93 176.68,285.25 177.30,281.60 C177.92,277.95 178.77,269.77 179.50,266.30 C180.23,262.83 180.97,261.90 181.70,260.80 C182.43,259.70 183.18,260.25 183.90,259.70 C184.62,259.15 185.35,258.60 186.00,257.50 C186.65,256.40 187.25,254.18 187.80,253.10 C188.35,252.02 188.75,250.45 189.30,251.00 C189.85,251.55 190.55,253.85 191.10,256.40 C191.65,258.95 192.08,263.20 192.60,266.30 C193.12,269.40 193.65,274.27 194.20,275.00 C194.75,275.73 195.43,271.78 195.90,270.70 C196.37,269.62 196.57,268.13 197.00,268.50 C197.43,268.87 197.95,270.90 198.50,272.90 C199.05,274.90 199.75,278.57 200.30,280.50 C200.85,282.43 201.30,283.40 201.80,284.50 C202.30,285.60 202.80,287.22 203.30,287.10 C203.80,286.98 204.25,286.53 204.80,283.80 C205.35,281.07 206.02,275.08 206.60,270.70 C207.18,266.32 207.75,261.15 208.30,257.50 C208.85,253.85 209.45,250.43 209.90,248.80 C210.35,247.17 210.65,246.98 211.00,247.70 C211.35,248.42 211.57,250.37 212.00,253.10 C212.43,255.83 213.05,261.53 213.60,264.10 C214.15,266.67 214.72,266.68 215.30,268.50 C215.88,270.32 216.55,271.72 217.10,275.00 C217.65,278.28 218.08,283.45 218.60,288.20 C219.12,292.95 219.65,299.48 220.20,303.50 C220.75,307.52 221.43,310.47 221.90,312.30 C222.37,314.13 222.57,315.60 223.00,314.50 C223.43,313.40 224.03,309.72 224.50,305.70 C224.97,301.68 225.35,295.52 225.80,290.40 C226.25,285.28 226.67,280.90 227.20,275.00 C227.73,269.10 228.70,258.33 229.00,255.00" stroke="#404040" stroke-width="1.1"/></g><line x1="36.90" y1="205.40" x2="228.60" y2="205.40" stroke="#303030" stroke-width="1.6"/><line x1="36.90" y1="332.60" x2="228.60" y2="332.60" stroke="#303030" stroke-width="1.6"/><line x1="37.70" y1="204.60" x2="37.70" y2="333.40" stroke="#303030" stroke-width="1.7"/><line x1="228.00" y1="204.60" x2="228.00" y2="333.40" stroke="#303030" stroke-width="1.2"/><line x1="33.40" y1="332.60" x2="37.70" y2="332.60" stroke="#303030" stroke-width="1.5"/><text class="tk" x="31.20" y="335.90" font-size="9.6" text-anchor="end">-0.2</text><line x1="33.40" y1="307.16" x2="37.70" y2="307.16" stroke="#303030" stroke-width="1.5"/><text class="tk" x="31.20" y="310.46" font-size="9.6" text-anchor="end">0.0</text><line x1="33.40" y1="281.72" x2="37.70" y2="281.72" stroke="#303030" stroke-width="1.5"/><text class="tk" x="31.20" y="285.02" font-size="9.6" text-anchor="end">0.2</text><line x1="33.40" y1="256.28" x2="37.70" y2="256.28" stroke="#303030" stroke-width="1.5"/><text class="tk" x="31.20" y="259.58" font-size="9.6" text-anchor="end">0.4</text><line x1="33.40" y1="230.84" x2="37.70" y2="230.84" stroke="#303030" stroke-width="1.5"/><text class="tk" x="31.20" y="234.14" font-size="9.6" text-anchor="end">0.6</text><line x1="33.40" y1="205.40" x2="37.70" y2="205.40" stroke="#303030" stroke-width="1.5"/><text class="tk" x="31.20" y="208.70" font-size="9.6" text-anchor="end">0.8</text><line x1="35.50" y1="319.88" x2="37.70" y2="319.88" stroke="#303030" stroke-width="1.3"/><line x1="35.50" y1="294.44" x2="37.70" y2="294.44" stroke="#303030" stroke-width="1.3"/><line x1="35.50" y1="269.00" x2="37.70" y2="269.00" stroke="#303030" stroke-width="1.3"/><line x1="35.50" y1="243.56" x2="37.70" y2="243.56" stroke="#303030" stroke-width="1.3"/><line x1="35.50" y1="218.12" x2="37.70" y2="218.12" stroke="#303030" stroke-width="1.3"/><line x1="37.70" y1="332.60" x2="37.70" y2="337.40" stroke="#303030" stroke-width="1.5"/><text class="tk" x="37.80" y="346.50" font-size="9.0" text-anchor="middle">22</text><line x1="75.76" y1="332.60" x2="75.76" y2="337.40" stroke="#303030" stroke-width="1.5"/><text class="tk" x="75.86" y="346.50" font-size="9.0" text-anchor="middle">23</text><line x1="113.82" y1="332.60" x2="113.82" y2="337.40" stroke="#303030" stroke-width="1.5"/><text class="tk" x="113.92" y="346.50" font-size="9.0" text-anchor="middle">24</text><line x1="151.88" y1="332.60" x2="151.88" y2="337.40" stroke="#303030" stroke-width="1.5"/><text class="tk" x="151.98" y="346.50" font-size="9.0" text-anchor="middle">25</text><line x1="189.94" y1="332.60" x2="189.94" y2="337.40" stroke="#303030" stroke-width="1.5"/><text class="tk" x="190.04" y="346.50" font-size="9.0" text-anchor="middle">26</text><line x1="228.00" y1="332.60" x2="228.00" y2="337.40" stroke="#303030" stroke-width="1.5"/><text class="tk" x="228.10" y="346.50" font-size="9.0" text-anchor="middle">27</text><line x1="47.00" y1="217.70" x2="71.90" y2="217.70" stroke="#404040" stroke-width="1.25"/><line x1="112.50" y1="217.70" x2="137.50" y2="217.70" stroke="#ff3535" stroke-width="1.3" stroke-dasharray="3.8 3.2"/><line x1="172.80" y1="217.70" x2="198.90" y2="217.70" stroke="#2080f5" stroke-width="1.3" stroke-dasharray="4.5 1.6 1.3 1.7"/><text transform="translate(75.00,221.70) scale(1,1.09)" font-size="11.3">T=0.75S</text><text transform="translate(139.60,221.70) scale(1,1.09)" font-size="11.3">T=1.5S</text><text transform="translate(199.80,221.70) scale(1,1.09)" font-size="11.3">T=3S</text><text transform="translate(9.60,274.70) rotate(-90)" font-size="12">C<tspan font-size="7.8" dy="3.4">P</tspan></text><text transform="translate(110.20,358.90) scale(1,1.07)" font-size="11.5"><tspan x="0" y="0">time</tspan><tspan x="18.30" y="-0.6" font-size="9.4">（</tspan><tspan x="30.10" y="0">s</tspan><tspan x="36.50" y="-0.6" font-size="9.4">）</tspan></text><text transform="translate(109.40,382.90) scale(1,1.04)" font-size="12.2">(<tspan font-weight="bold">c</tspan>)</text></g>
<g><clipPath id="clipd"><rect x="349.40" y="205.20" width="193.00" height="126.80"/></clipPath><g clip-path="url(#clipd)" fill="none" stroke-linejoin="round"><path d="M349.50,289.50 C350.00,288.72 351.42,286.55 352.50,284.80 C353.58,283.05 354.85,280.93 356.00,279.00 C357.15,277.07 358.25,274.55 359.40,273.20 C360.55,271.85 361.73,271.47 362.90,270.90 C364.07,270.33 365.23,269.02 366.40,269.80 C367.57,270.58 368.73,273.28 369.90,275.60 C371.07,277.92 372.25,281.50 373.40,283.70 C374.55,285.90 375.65,288.22 376.80,288.80 C377.95,289.38 379.13,287.08 380.30,287.20 C381.47,287.32 382.83,288.93 383.80,289.50 C384.77,290.07 385.13,291.77 386.10,290.60 C387.07,289.43 388.43,284.35 389.60,282.50 C390.77,280.65 391.87,280.08 393.10,279.50 C394.33,278.92 395.77,279.27 397.00,279.00 C398.23,278.73 399.33,278.28 400.50,277.90 C401.67,277.52 402.85,276.32 404.00,276.70 C405.15,277.08 406.25,279.23 407.40,280.20 C408.55,281.17 409.73,282.70 410.90,282.50 C412.07,282.30 413.23,280.35 414.40,279.00 C415.57,277.65 416.73,274.78 417.90,274.40 C419.07,274.02 420.25,275.93 421.40,276.70 C422.55,277.47 423.45,278.22 424.80,279.00 C426.15,279.78 427.95,280.62 429.50,281.40 C431.05,282.18 432.75,282.73 434.10,283.70 C435.45,284.67 436.43,287.20 437.60,287.20 C438.77,287.20 439.87,285.40 441.10,283.70 C442.33,282.00 443.77,278.75 445.00,277.00 C446.23,275.25 447.15,274.22 448.50,273.20 C449.85,272.18 451.55,270.90 453.10,270.90 C454.65,270.90 456.37,271.85 457.80,273.20 C459.23,274.55 460.55,276.87 461.70,279.00 C462.85,281.13 463.62,284.37 464.70,286.00 C465.78,287.63 467.03,289.18 468.20,288.80 C469.37,288.42 470.53,285.33 471.70,283.70 C472.87,282.07 473.85,280.17 475.20,279.00 C476.55,277.83 478.45,276.12 479.80,276.70 C481.15,277.28 481.95,281.15 483.30,282.50 C484.65,283.85 486.28,284.30 487.90,284.80 C489.52,285.30 491.57,285.68 493.00,285.50 C494.43,285.32 495.33,284.97 496.50,283.70 C497.67,282.43 498.65,279.65 500.00,277.90 C501.35,276.15 503.07,274.55 504.60,273.20 C506.13,271.85 507.85,269.80 509.20,269.80 C510.55,269.80 511.53,271.67 512.70,273.20 C513.87,274.73 515.03,276.87 516.20,279.00 C517.37,281.13 518.35,284.25 519.70,286.00 C521.05,287.75 522.75,289.30 524.30,289.50 C525.85,289.70 527.65,288.37 529.00,287.20 C530.35,286.03 531.25,283.67 532.40,282.50 C533.55,281.33 534.73,280.97 535.90,280.20 C537.07,279.43 538.32,278.48 539.40,277.90 C540.48,277.32 541.90,276.90 542.40,276.70" stroke="#ff3535" stroke-width="1.3" stroke-dasharray="3.8 3.2"/><path d="M349.50,281.40 C350.38,281.20 352.75,280.67 354.80,280.20 C356.85,279.73 359.48,278.60 361.80,278.60 C364.12,278.60 366.58,279.35 368.70,280.20 C370.82,281.05 372.57,282.82 374.50,283.70 C376.43,284.58 378.37,285.32 380.30,285.50 C382.23,285.68 384.17,285.18 386.10,284.80 C388.03,284.42 390.08,283.47 391.90,283.20 C393.72,282.93 394.98,283.32 397.00,283.20 C399.02,283.08 401.68,282.80 404.00,282.50 C406.32,282.20 408.40,281.67 410.90,281.40 C413.40,281.13 416.48,280.72 419.00,280.90 C421.52,281.08 423.87,281.85 426.00,282.50 C428.13,283.15 429.87,284.42 431.80,284.80 C433.73,285.18 435.40,285.27 437.60,284.80 C439.80,284.33 442.60,282.27 445.00,282.00 C447.40,281.73 449.68,282.73 452.00,283.20 C454.32,283.67 456.78,284.92 458.90,284.80 C461.02,284.68 462.77,283.27 464.70,282.50 C466.63,281.73 468.57,280.20 470.50,280.20 C472.43,280.20 474.37,281.73 476.30,282.50 C478.23,283.27 480.17,284.60 482.10,284.80 C484.03,285.00 486.08,284.17 487.90,283.70 C489.72,283.23 491.18,282.32 493.00,282.00 C494.82,281.68 496.87,281.33 498.80,281.80 C500.73,282.27 502.87,284.10 504.60,284.80 C506.33,285.50 507.27,286.18 509.20,286.00 C511.13,285.82 513.87,284.47 516.20,283.70 C518.53,282.93 521.27,281.98 523.20,281.40 C525.13,280.82 526.07,280.13 527.80,280.20 C529.53,280.27 531.67,281.30 533.60,281.80 C535.53,282.30 537.93,282.97 539.40,283.20 C540.87,283.43 541.90,283.20 542.40,283.20" stroke="#2080f5" stroke-width="1.3" stroke-dasharray="4.5 1.6 1.3 1.7"/><path d="M350.20,297.60 C350.47,293.73 351.23,280.97 351.80,274.40 C352.37,267.83 352.98,261.48 353.60,258.20 C354.22,254.92 354.80,254.32 355.50,254.70 C356.20,255.08 356.95,258.18 357.80,260.50 C358.65,262.82 359.82,266.87 360.60,268.60 C361.38,270.33 361.80,271.48 362.50,270.90 C363.20,270.32 364.03,268.77 364.80,265.10 C365.57,261.43 366.33,253.23 367.10,248.90 C367.87,244.57 368.70,240.07 369.40,239.10 C370.10,238.13 370.72,239.92 371.30,243.10 C371.88,246.28 372.37,252.22 372.90,258.20 C373.43,264.18 373.92,273.78 374.50,279.00 C375.08,284.22 375.78,288.72 376.40,289.50 C377.02,290.28 377.67,288.15 378.20,283.70 C378.73,279.25 379.05,269.77 379.60,262.80 C380.15,255.83 380.80,246.47 381.50,241.90 C382.20,237.33 383.10,235.58 383.80,235.40 C384.50,235.22 385.08,236.23 385.70,240.80 C386.32,245.37 386.85,254.50 387.50,262.80 C388.15,271.10 388.87,283.07 389.60,290.60 C390.33,298.13 391.13,307.60 391.90,308.00 C392.67,308.40 393.35,299.77 394.20,293.00 C395.05,286.23 396.22,272.23 397.00,267.40 C397.78,262.57 398.20,264.38 398.90,264.00 C399.60,263.62 400.43,264.72 401.20,265.10 C401.97,265.48 402.73,265.92 403.50,266.30 C404.27,266.68 405.03,268.37 405.80,267.40 C406.57,266.43 407.32,264.37 408.10,260.50 C408.88,256.63 409.77,247.77 410.50,244.20 C411.23,240.63 411.85,238.70 412.50,239.10 C413.15,239.50 413.82,242.27 414.40,246.60 C414.98,250.93 415.42,259.30 416.00,265.10 C416.58,270.90 417.32,277.92 417.90,281.40 C418.48,284.88 418.92,287.17 419.50,286.00 C420.08,284.83 420.78,280.20 421.40,274.40 C422.02,268.60 422.55,257.58 423.20,251.20 C423.85,244.82 424.72,239.20 425.30,236.10 C425.88,233.00 426.15,232.40 426.70,232.60 C427.25,232.80 427.98,233.43 428.60,237.30 C429.22,241.17 429.78,248.85 430.40,255.80 C431.02,262.75 431.68,272.03 432.30,279.00 C432.92,285.97 433.48,293.15 434.10,297.60 C434.72,302.05 435.38,305.70 436.00,305.70 C436.62,305.70 437.15,302.82 437.80,297.60 C438.45,292.38 439.17,279.82 439.90,274.40 C440.63,268.98 441.35,266.33 442.20,265.10 C443.05,263.87 444.22,265.45 445.00,267.00 C445.78,268.55 446.20,273.55 446.90,274.40 C447.60,275.25 448.43,272.87 449.20,272.10 C449.97,271.33 450.85,272.12 451.50,269.80 C452.15,267.48 452.57,262.07 453.10,258.20 C453.63,254.33 454.20,249.23 454.70,246.60 C455.20,243.97 455.58,242.40 456.10,242.40 C456.62,242.40 457.25,243.58 457.80,246.60 C458.35,249.62 458.83,255.67 459.40,260.50 C459.97,265.33 460.62,272.43 461.20,275.60 C461.78,278.77 462.32,279.70 462.90,279.50 C463.48,279.30 464.02,278.73 464.70,274.40 C465.38,270.07 466.22,259.50 467.00,253.50 C467.78,247.50 468.73,241.42 469.40,238.40 C470.07,235.38 470.43,234.82 471.00,235.40 C471.57,235.98 472.18,237.33 472.80,241.90 C473.42,246.47 474.12,255.45 474.70,262.80 C475.28,270.15 475.77,280.00 476.30,286.00 C476.83,292.00 477.40,296.17 477.90,298.80 C478.40,301.43 478.78,303.17 479.30,301.80 C479.82,300.43 480.42,296.72 481.00,290.60 C481.58,284.48 482.15,271.47 482.80,265.10 C483.45,258.73 484.32,254.72 484.90,252.40 C485.48,250.08 485.75,250.23 486.30,251.20 C486.85,252.17 487.55,254.33 488.20,258.20 C488.85,262.07 489.40,269.38 490.20,274.40 C491.00,279.42 492.22,288.30 493.00,288.30 C493.78,288.30 494.20,279.42 494.90,274.40 C495.60,269.38 496.35,262.15 497.20,258.20 C498.05,254.25 499.08,250.70 500.00,250.70 C500.92,250.70 501.85,255.22 502.70,258.20 C503.55,261.18 504.40,266.22 505.10,268.60 C505.80,270.98 506.22,272.70 506.90,272.50 C507.58,272.30 508.42,271.33 509.20,267.40 C509.98,263.47 510.82,253.33 511.60,248.90 C512.38,244.47 513.22,241.58 513.90,240.80 C514.58,240.02 515.00,239.77 515.70,244.20 C516.40,248.63 517.40,260.23 518.10,267.40 C518.80,274.57 519.33,282.75 519.90,287.20 C520.47,291.65 520.88,294.68 521.50,294.10 C522.12,293.52 522.93,288.92 523.60,283.70 C524.27,278.48 524.88,268.80 525.50,262.80 C526.12,256.80 526.72,250.60 527.30,247.70 C527.88,244.80 528.42,244.43 529.00,245.40 C529.58,246.37 530.15,247.90 530.80,253.50 C531.45,259.10 532.17,271.85 532.90,279.00 C533.63,286.15 534.50,292.53 535.20,296.40 C535.90,300.27 536.48,302.77 537.10,302.20 C537.72,301.63 538.28,298.40 538.90,293.00 C539.52,287.60 540.22,275.60 540.80,269.80 C541.38,264.00 542.13,260.13 542.40,258.20" stroke="#404040" stroke-width="1.1"/></g><line x1="348.60" y1="205.20" x2="543.00" y2="205.20" stroke="#303030" stroke-width="1.6"/><line x1="348.60" y1="332.00" x2="543.00" y2="332.00" stroke="#303030" stroke-width="1.6"/><line x1="349.40" y1="204.40" x2="349.40" y2="332.80" stroke="#303030" stroke-width="1.7"/><line x1="542.40" y1="204.40" x2="542.40" y2="332.80" stroke="#303030" stroke-width="1.2"/><line x1="345.10" y1="332.00" x2="349.40" y2="332.00" stroke="#303030" stroke-width="1.5"/><text class="tk" x="342.90" y="335.30" font-size="9.6" text-anchor="end">0.2</text><line x1="345.10" y1="300.30" x2="349.40" y2="300.30" stroke="#303030" stroke-width="1.5"/><text class="tk" x="342.90" y="303.60" font-size="9.6" text-anchor="end">0.4</text><line x1="345.10" y1="268.60" x2="349.40" y2="268.60" stroke="#303030" stroke-width="1.5"/><text class="tk" x="342.90" y="271.90" font-size="9.6" text-anchor="end">0.6</text><line x1="345.10" y1="236.90" x2="349.40" y2="236.90" stroke="#303030" stroke-width="1.5"/><text class="tk" x="342.90" y="240.20" font-size="9.6" text-anchor="end">0.8</text><line x1="345.10" y1="205.20" x2="349.40" y2="205.20" stroke="#303030" stroke-width="1.5"/><text class="tk" x="342.90" y="208.50" font-size="9.6" text-anchor="end">1.0</text><line x1="347.20" y1="316.15" x2="349.40" y2="316.15" stroke="#303030" stroke-width="1.3"/><line x1="347.20" y1="284.45" x2="349.40" y2="284.45" stroke="#303030" stroke-width="1.3"/><line x1="347.20" y1="252.75" x2="349.40" y2="252.75" stroke="#303030" stroke-width="1.3"/><line x1="347.20" y1="221.05" x2="349.40" y2="221.05" stroke="#303030" stroke-width="1.3"/><line x1="349.40" y1="332.00" x2="349.40" y2="336.80" stroke="#303030" stroke-width="1.5"/><text class="tk" x="349.50" y="345.90" font-size="9.0" text-anchor="middle">22</text><line x1="388.00" y1="332.00" x2="388.00" y2="336.80" stroke="#303030" stroke-width="1.5"/><text class="tk" x="388.10" y="345.90" font-size="9.0" text-anchor="middle">23</text><line x1="426.60" y1="332.00" x2="426.60" y2="336.80" stroke="#303030" stroke-width="1.5"/><text class="tk" x="426.70" y="345.90" font-size="9.0" text-anchor="middle">24</text><line x1="465.20" y1="332.00" x2="465.20" y2="336.80" stroke="#303030" stroke-width="1.5"/><text class="tk" x="465.30" y="345.90" font-size="9.0" text-anchor="middle">25</text><line x1="503.80" y1="332.00" x2="503.80" y2="336.80" stroke="#303030" stroke-width="1.5"/><text class="tk" x="503.90" y="345.90" font-size="9.0" text-anchor="middle">26</text><line x1="542.40" y1="332.00" x2="542.40" y2="336.80" stroke="#303030" stroke-width="1.5"/><text class="tk" x="542.50" y="345.90" font-size="9.0" text-anchor="middle">27</text><line x1="359.10" y1="217.50" x2="383.60" y2="217.50" stroke="#404040" stroke-width="1.25"/><line x1="424.40" y1="217.50" x2="449.80" y2="217.50" stroke="#ff3535" stroke-width="1.3" stroke-dasharray="3.8 3.2"/><line x1="484.80" y1="217.50" x2="509.80" y2="217.50" stroke="#2080f5" stroke-width="1.3" stroke-dasharray="4.5 1.6 1.3 1.7"/><text transform="translate(386.30,221.50) scale(1,1.09)" font-size="11.3">T=0.75S</text><text transform="translate(451.80,221.50) scale(1,1.09)" font-size="11.3">T=1.5S</text><text transform="translate(511.80,221.50) scale(1,1.09)" font-size="11.3">T=3S</text><text transform="translate(324.80,274.50) rotate(-90)" font-size="12">C<tspan font-size="7.8" dy="3.4">T</tspan></text><text transform="translate(423.10,358.90) scale(1,1.07)" font-size="11.5"><tspan x="0" y="0">time</tspan><tspan x="18.30" y="-0.6" font-size="9.4">（</tspan><tspan x="30.10" y="0">s</tspan><tspan x="36.50" y="-0.6" font-size="9.4">）</tspan></text><text transform="translate(423.20,382.90) scale(1,1.04)" font-size="12.2">(<tspan font-weight="bold">d</tspan>)</text></g>
</svg></div></body></html>
